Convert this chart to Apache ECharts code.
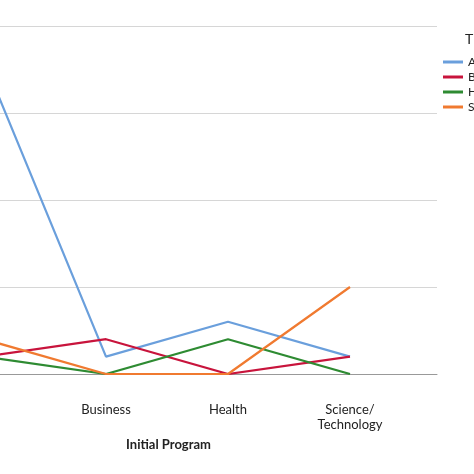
<!DOCTYPE html>
<html><head><meta charset="utf-8">
<script src="https://cdn.jsdelivr.net/npm/echarts@6/dist/echarts.min.js"></script>
<style>html,body{margin:0;padding:0;background:#fff}#c{width:474px;height:474px}</style>
</head><body><div id="c"></div>
<script>
const categories = ['Liberal Arts','Business','Health','Science/\nTechnology'];
const seriesNames = ['Arts','Business','Health','Science/Technology'];
const arts = [18,1,3,1];
const business = [1,2,0,1];
const health = [1,0,2,0];
const science = [2,0,0,5];
const colors = ['#6a9fdc','#c8143c','#2e8b32','#f07a30'];
const vals = [arts,business,health,science];
const chart = echarts.init(document.getElementById('c'));
chart.setOption({
  animation:false,
  title:{text:'Time',left:460,top:27,textStyle:{fontSize:14,fontWeight:'normal',color:'#222',fontFamily:'Lato'}},
  legend:{orient:'vertical',left:438,top:51,itemWidth:20,itemHeight:3,itemGap:3,icon:'rect',
    textStyle:{fontSize:12,color:'#222',fontFamily:'Lato'},data:seriesNames},
  grid:{left:0,right:37,top:26,bottom:100},
  xAxis:{type:'value',min:1+16/122,max:1+453/122,offset:20,
    axisLine:{show:true,lineStyle:{color:'#999'}},axisTick:{show:false},splitLine:{show:false},
    axisLabel:{color:'#222',fontSize:13,fontFamily:'Lato',lineHeight:15,customValues:[1,2,3,4],
      showMinLabel:true,formatter:v=>categories[Math.round(v)-1]||''},
    name:'Initial Program',nameLocation:'middle',nameGap:44,
    nameTextStyle:{fontWeight:'bold',fontSize:13,color:'#222',fontFamily:'Lato',padding:[0,0,0,-100]}},
  yAxis:{type:'value',min:0,max:20,interval:5,axisLabel:{show:false},axisLine:{show:false},axisTick:{show:false},
    splitLine:{lineStyle:{color:'#d6d6d6'}}},
  series:vals.map((d,i)=>({name:seriesNames[i],type:'line',symbol:'none',color:colors[i],
    lineStyle:{width:2.2},data:d.map((v,j)=>[j+1,v])}))
});
</script></body></html>
